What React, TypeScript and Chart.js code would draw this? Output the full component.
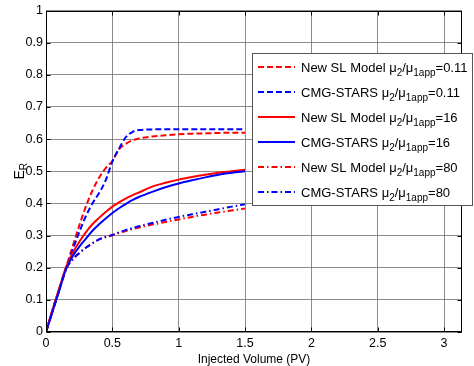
import { useEffect, useRef } from "react";
import { Chart, registerables } from "chart.js";

Chart.register(...registerables);

// Injected pore volumes at which recovery factor is sampled
const injectedVolume = [0, 0.05, 0.1, 0.15, 0.2, 0.25, 0.3, 0.35, 0.4, 0.45, 0.5, 0.55, 0.6, 0.65, 0.7, 0.8, 0.9, 1.0, 1.1, 1.2, 1.3, 1.4, 1.5];

// Recovery factor E_R for each case
const slModel011 = [0, 0.07, 0.135, 0.2, 0.265, 0.33, 0.39, 0.44, 0.48, 0.51, 0.532, 0.568, 0.585, 0.596, 0.602, 0.608, 0.612, 0.615, 0.617, 0.618, 0.619, 0.62, 0.62];
const cmgStars011 = [0, 0.065, 0.13, 0.195, 0.255, 0.31, 0.36, 0.4, 0.432, 0.472, 0.53, 0.57, 0.605, 0.622, 0.628, 0.63, 0.631, 0.631, 0.631, 0.631, 0.631, 0.631, 0.631];
const slModel16 = [0, 0.07, 0.135, 0.2, 0.245, 0.28, 0.31, 0.335, 0.355, 0.373, 0.39, 0.403, 0.415, 0.425, 0.434, 0.452, 0.464, 0.474, 0.482, 0.489, 0.495, 0.5, 0.505];
const cmgStars16 = [0, 0.065, 0.13, 0.195, 0.235, 0.265, 0.29, 0.315, 0.335, 0.353, 0.37, 0.385, 0.398, 0.41, 0.42, 0.436, 0.45, 0.462, 0.472, 0.481, 0.489, 0.495, 0.5];
const slModel80 = [0, 0.07, 0.135, 0.195, 0.225, 0.245, 0.262, 0.276, 0.288, 0.295, 0.301, 0.308, 0.314, 0.32, 0.325, 0.334, 0.342, 0.35, 0.358, 0.365, 0.372, 0.378, 0.384];
const cmgStars80 = [0, 0.065, 0.13, 0.195, 0.225, 0.245, 0.262, 0.276, 0.288, 0.296, 0.302, 0.31, 0.317, 0.323, 0.329, 0.339, 0.349, 0.358, 0.366, 0.374, 0.382, 0.39, 0.397];

const legendModels = ["New SL Model", "CMG-STARS", "New SL Model", "CMG-STARS", "New SL Model", "CMG-STARS"];
const legendRatios = ["0.11", "0.11", "16", "16", "80", "80"];

const xTickValues = [0, 0.5, 1, 1.5, 2, 2.5, 3];
const yTickValues = [0, 0.1, 0.2, 0.3, 0.4, 0.5, 0.6, 0.7, 0.8, 0.9, 1];
const X_MAX = 3.135;

const FONT = '"Liberation Sans", Arial, Helvetica, sans-serif';
const RED = "rgb(255,0,0)";
const BLUE = "rgb(0,0,255)";
const DASH = [6, 3];
const DASH_DOT = [6, 3, 1.5, 3];

const seriesList = [slModel011, cmgStars011, slModel16, cmgStars16, slModel80, cmgStars80];
const seriesStyles = [
  { color: RED, dash: DASH },
  { color: BLUE, dash: DASH },
  { color: RED, dash: [] as number[] },
  { color: BLUE, dash: [] as number[] },
  { color: RED, dash: DASH_DOT },
  { color: BLUE, dash: DASH_DOT },
];

const decorPlugin = {
  id: "matlabDecor",
  afterDraw(chart: any) {
    const ctx: CanvasRenderingContext2D = chart.ctx;
    const a = chart.chartArea;
    const xs = chart.scales.x;
    const ys = chart.scales.y;
    const L = Math.round(a.left) + 0.5;
    const R = Math.round(a.right) - 0.5;
    const T = Math.round(a.top) + 0.5;
    const B = Math.round(a.bottom) - 0.5;

    ctx.save();
    // axes box
    ctx.strokeStyle = "#000";
    ctx.lineWidth = 1;
    ctx.setLineDash([]);
    ctx.strokeRect(L, T, R - L, B - T);

    // inward tick marks on all four sides
    ctx.beginPath();
    xTickValues.forEach((v) => {
      const px = Math.round(xs.getPixelForValue(v)) + 0.5;
      ctx.moveTo(px, B);
      ctx.lineTo(px, B - 4);
      ctx.moveTo(px, T);
      ctx.lineTo(px, T + 4);
    });
    yTickValues.forEach((v) => {
      const py = Math.round(ys.getPixelForValue(v)) + 0.5;
      ctx.moveTo(L, py);
      ctx.lineTo(L + 4, py);
      ctx.moveTo(R, py);
      ctx.lineTo(R - 4, py);
    });
    ctx.stroke();

    // x axis title
    ctx.fillStyle = "#000";
    ctx.font = `12px ${FONT}`;
    ctx.textAlign = "center";
    ctx.textBaseline = "middle";
    ctx.fillText("Injected Volume (PV)", (a.left + a.right) / 2, 360);

    // y axis title E_R
    ctx.save();
    ctx.translate(19, (a.top + a.bottom) / 2);
    ctx.rotate(-Math.PI / 2);
    ctx.textAlign = "left";
    ctx.textBaseline = "alphabetic";
    ctx.font = `14px ${FONT}`;
    const eW = ctx.measureText("E").width;
    ctx.font = `10px ${FONT}`;
    const rW = ctx.measureText("R").width;
    const start = -(eW + rW) / 2;
    ctx.font = `14px ${FONT}`;
    ctx.fillText("E", start, 5);
    ctx.font = `10px ${FONT}`;
    ctx.fillText("R", start + eW, 8);
    ctx.restore();

    // legend
    const bx = 252.5, by = 53.5, bw = 220, bh = 152;
    ctx.fillStyle = "#fff";
    ctx.fillRect(bx, by, bw, bh);
    ctx.strokeStyle = "#555";
    ctx.lineWidth = 1;
    ctx.strokeRect(bx, by, bw, bh);

    legendModels.forEach((model, i) => {
      const rowY = 67 + i * 25;
      const st = seriesStyles[i];
      ctx.strokeStyle = st.color;
      ctx.lineWidth = 2;
      ctx.setLineDash(st.dash);
      ctx.beginPath();
      ctx.moveTo(258, rowY);
      ctx.lineTo(295, rowY);
      ctx.stroke();
      ctx.setLineDash([]);

      ctx.fillStyle = "#000";
      ctx.textAlign = "left";
      ctx.textBaseline = "alphabetic";
      let x = 301;
      const base = rowY + 5;
      const parts: [string, boolean][] = [
        [`${model} \u03bc`, false],
        ["2", true],
        ["/\u03bc", false],
        ["1app", true],
        [`=${legendRatios[i]}`, false],
      ];
      parts.forEach(([txt, sub]) => {
        ctx.font = sub ? `10px ${FONT}` : `13px ${FONT}`;
        ctx.fillText(txt, x, sub ? base + 4 : base);
        x += ctx.measureText(txt).width;
      });
    });
    ctx.restore();
  },
};

export default function App() {
  const canvasRef = useRef<HTMLCanvasElement | null>(null);

  useEffect(() => {
    const canvas = canvasRef.current;
    if (!canvas) return;

    const datasets = seriesList.map((values, i) => ({
      label: `${legendModels[i]} ${legendRatios[i]}`,
      data: injectedVolume.map((x, k) => ({ x, y: values[k] })),
      borderColor: seriesStyles[i].color,
      borderDash: seriesStyles[i].dash,
      borderWidth: 2,
      pointRadius: 0,
      fill: false,
      cubicInterpolationMode: "monotone" as const,
      order: seriesList.length - i,
    }));

    const chart = new Chart(canvas, {
      type: "line",
      data: { datasets },
      options: {
        responsive: false,
        animation: false,
        layout: { padding: { top: 5, right: 12, bottom: 0, left: 0 } },
        plugins: {
          legend: { display: false },
          tooltip: { enabled: false },
        },
        scales: {
          x: {
            type: "linear",
            min: 0,
            max: X_MAX,
            afterBuildTicks: (s: any) => {
              s.ticks = xTickValues.map((v) => ({ value: v }));
            },
            afterFit: (s: any) => {
              s.height = 34;
            },
            ticks: {
              color: "#000",
              font: { family: FONT, size: 12.5 },
              padding: 4,
              maxRotation: 0,
              autoSkip: false,
              callback: (v: any) => String(v),
            },
            grid: { color: "rgba(120,120,120,0.85)", lineWidth: 1, drawTicks: false },
            border: { display: false },
          },
          y: {
            type: "linear",
            min: 0,
            max: 1,
            afterBuildTicks: (s: any) => {
              s.ticks = yTickValues.map((v) => ({ value: v }));
            },
            afterFit: (s: any) => {
              s.width = 46;
            },
            ticks: {
              color: "#000",
              font: { family: FONT, size: 12.5 },
              padding: 3,
              autoSkip: false,
              callback: (v: any) => String(Math.round(v * 10) / 10),
            },
            grid: { color: "rgba(120,120,120,0.85)", lineWidth: 1, drawTicks: false },
            border: { display: false },
          },
        },
      },
      plugins: [decorPlugin],
    });

    return () => chart.destroy();
  }, []);

  return (
    <div style={{ position: "fixed", left: 0, top: 0, width: 474, height: 366, background: "#fff" }}>
      <canvas ref={canvasRef} width={474} height={366} style={{ display: "block" }} />
    </div>
  );
}
